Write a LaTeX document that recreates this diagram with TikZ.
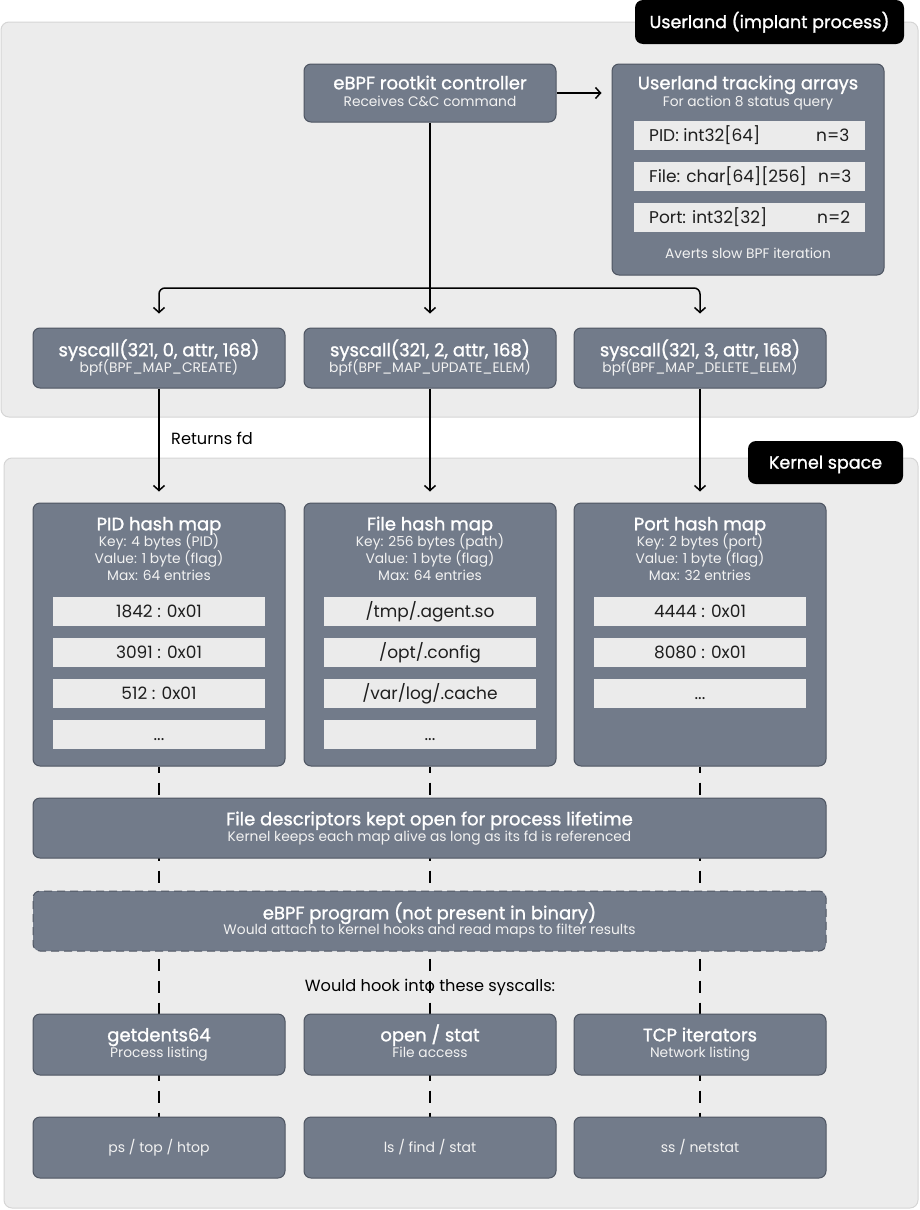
\documentclass[tikz,border=0pt]{standalone}
\usepackage{fontspec}
\setmainfont{Poppins}
\newfontfamily\tfont{Poppins}[FakeBold=1.3]
\usetikzlibrary{arrows.meta,backgrounds}
\definecolor{panelfill}{HTML}{ECECEC}
\definecolor{paneldraw}{HTML}{D5D5D5}
\definecolor{boxfill}{HTML}{727B8A}
\definecolor{boxdraw}{HTML}{4E5562}
\definecolor{rowfill}{HTML}{EBEBEB}
\definecolor{subtext}{HTML}{F2F2F2}
\definecolor{rowtext}{HTML}{1E1E1E}
\tikzset{
 panel/.style={draw=paneldraw, fill=panelfill, line width=1pt, rounded corners=8pt},
 tag/.style={fill=black, text=white, rounded corners=8pt, font=\tfont\fontsize{17.5}{20}\selectfont, inner sep=0pt, text height=12.2pt, text depth=0pt},
 box/.style={draw=boxdraw, fill=boxfill, line width=1pt, rounded corners=7pt, inner sep=0pt},
 dbox/.style={box, dash pattern=on 8pt off 5pt},
 row/.style={fill=rowfill, inner sep=0pt, minimum height=29pt},
 ttl/.style={text=white, font=\tfont\fontsize{18}{21}\selectfont, inner sep=0pt, anchor=base},
 sub/.style={text=subtext, font=\fontsize{13.8}{16}\selectfont, inner sep=0pt, anchor=base},
 rowtxt/.style={text=rowtext, font=\fontsize{17}{20}\selectfont, inner sep=0pt, anchor=base},
 plain/.style={text=black, font=\fontsize{16.2}{19}\selectfont, inner sep=0pt, anchor=base},
 arr/.style={line width=1.5pt, -{Straight Barb[length=5pt,width=11pt]}},
 dline/.style={line width=1.5pt, dash pattern=on 12pt off 10pt},
}
\begin{document}
\begin{tikzpicture}[x=1pt,y=-1pt]
\useasboundingbox (0,0) rectangle (920,1210);

% tags
\node[tag, minimum width=269pt, minimum height=44pt] (tagU) at (769.5,22) {Userland (implant process)};
\node[tag, minimum width=155pt, minimum height=43pt] (tagK) at (825.5,462.5) {Kernel space};

% controller
\node[box, minimum width=252pt, minimum height=58pt] (ctrl) at (430,93) {};
\node[ttl] (ctrlT) at (430,89.3) {eBPF rootkit controller};
\node[sub] (ctrlS) at (430,106.8) {Receives C\&C command};

% tracking arrays
\node[box, minimum width=272pt, minimum height=211pt] (track) at (748,169.5) {};
\node[ttl] (trackT) at (748,89.3) {Userland tracking arrays};
\node[sub] (trackS) at (748,106.8) {For action 8 status query};
\node[row, minimum width=231pt] (tr1) at (749.5,135.5) {};
\node[row, minimum width=231pt] (tr2) at (749.5,176.5) {};
\node[row, minimum width=231pt] (tr3) at (749.5,217.5) {};
\node[rowtxt, anchor=base west] (tr1a) at (649,141.5) {PID: int32[64]};
\node[rowtxt, anchor=base west] (tr1b) at (816,141.5) {n=3};
\node[rowtxt, anchor=base west] (tr2a) at (649,182.5) {File: char[64][256]};
\node[rowtxt, anchor=base west] (tr2b) at (818,182.5) {n=3};
\node[rowtxt, anchor=base west] (tr3a) at (649,223.5) {Port: int32[32]};
\node[rowtxt, anchor=base west] (tr3b) at (817,223.5) {n=2};
\node[sub] (trackF) at (748,258.8) {Averts slow BPF iteration};

% syscalls
\node[box, minimum width=252pt, minimum height=60pt] (sc1) at (159,358) {};
\node[box, minimum width=252pt, minimum height=60pt] (sc2) at (430,358) {};
\node[box, minimum width=252pt, minimum height=60pt] (sc3) at (700,358) {};
\node[ttl] (sc1T) at (159,356.3) {syscall(321, 0, attr, 168)};
\node[sub] (sc1S) at (159,372.8) {bpf(BPF\_MAP\_CREATE)};
\node[ttl] (sc2T) at (430,356.3) {syscall(321, 2, attr, 168)};
\node[sub] (sc2S) at (430,372.8) {bpf(BPF\_MAP\_UPDATE\_ELEM)};
\node[ttl] (sc3T) at (700,356.3) {syscall(321, 3, attr, 168)};
\node[sub] (sc3S) at (700,372.8) {bpf(BPF\_MAP\_DELETE\_ELEM)};

\node[plain] (ret) at (212,444.5) {Returns fd};

% maps
\node[box, minimum width=252pt, minimum height=263pt] (m1) at (159,634.5) {};
\node[box, minimum width=252pt, minimum height=263pt] (m2) at (430,634.5) {};
\node[box, minimum width=252pt, minimum height=263pt] (m3) at (700,634.5) {};
\node[ttl] (m1T) at (159,530.3) {PID hash map};
\node[sub] (m1a) at (159,546.8) {Key: 4 bytes (PID)};
\node[sub] (m1b) at (159,563.8) {Value: 1 byte (flag)};
\node[sub] (m1c) at (159,580.8) {Max: 64 entries};
\node[ttl] (m2T) at (430,530.3) {File hash map};
\node[sub] (m2a) at (430,546.8) {Key: 256 bytes (path)};
\node[sub] (m2b) at (430,563.8) {Value: 1 byte (flag)};
\node[sub] (m2c) at (430,580.8) {Max: 64 entries};
\node[ttl] (m3T) at (700,530.3) {Port hash map};
\node[sub] (m3a) at (700,546.8) {Key: 2 bytes (port)};
\node[sub] (m3b) at (700,563.8) {Value: 1 byte (flag)};
\node[sub] (m3c) at (700,580.8) {Max: 32 entries};

\foreach \cx/\nm/\a/\b/\c/\d in {159/p/{1842 : 0x01}/{3091 : 0x01}/{512 : 0x01}/{...},
                                 430/f/{/tmp/.agent.so}/{/opt/.config}/{/var/log/.cache}/{...}}{
  \node[row, minimum width=212pt] (\nm r1) at (\cx,611.5) {};
  \node[row, minimum width=212pt] (\nm r2) at (\cx,652.5) {};
  \node[row, minimum width=212pt] (\nm r3) at (\cx,693.5) {};
  \node[row, minimum width=212pt] (\nm r4) at (\cx,734.5) {};
  \node[rowtxt] (\nm t1) at (\cx,617.5) {\a};
  \node[rowtxt] (\nm t2) at (\cx,658.5) {\b};
  \node[rowtxt] (\nm t3) at (\cx,699.5) {\c};
  \node[rowtxt] (\nm t4) at (\cx,740.5) {\d};
}
\node[row, minimum width=212pt] (nr1) at (700,611.5) {};
\node[row, minimum width=212pt] (nr2) at (700,652.5) {};
\node[row, minimum width=212pt] (nr3) at (700,693.5) {};
\node[rowtxt] (nt1) at (700,617.5) {4444 : 0x01};
\node[rowtxt] (nt2) at (700,658.5) {8080 : 0x01};
\node[rowtxt] (nt3) at (700,699.5) {...};

% fd box
\node[box, minimum width=793pt, minimum height=60pt] (fd) at (429.5,828) {};
\node[ttl] (fdT) at (429.5,825.3) {File descriptors kept open for process lifetime};
\node[sub] (fdS) at (429.5,841.8) {Kernel keeps each map alive as long as its fd is referenced};

% ebpf program
\node[dbox, minimum width=793pt, minimum height=60pt] (prog) at (429.5,921) {};
\node[ttl] (progT) at (429.5,919.3) {eBPF program (not present in binary)};
\node[sub] (progS) at (429.5,934.8) {Would attach to kernel hooks and read maps to filter results};

\node[plain] (hook) at (430,991.5) {Would hook into these syscalls:};

% hooks
\node[box, minimum width=252pt, minimum height=61pt] (h1) at (159,1044.5) {};
\node[box, minimum width=252pt, minimum height=61pt] (h2) at (430,1044.5) {};
\node[box, minimum width=252pt, minimum height=61pt] (h3) at (700,1044.5) {};
\node[ttl] (h1T) at (159,1041.3) {getdents64};
\node[sub] (h1S) at (159,1057.8) {Process listing};
\node[ttl] (h2T) at (430,1041.3) {open / stat};
\node[sub] (h2S) at (430,1057.8) {File access};
\node[ttl] (h3T) at (700,1041.3) {TCP iterators};
\node[sub] (h3S) at (700,1057.8) {Network listing};

% tools
\node[box, minimum width=252pt, minimum height=61pt] (b1) at (159,1147.5) {};
\node[box, minimum width=252pt, minimum height=61pt] (b2) at (430,1147.5) {};
\node[box, minimum width=252pt, minimum height=61pt] (b3) at (700,1147.5) {};
\node[sub, font=\fontsize{14}{17}\selectfont] (b1T) at (159,1152.8) {ps / top / htop};
\node[sub, font=\fontsize{14}{17}\selectfont] (b2T) at (430,1152.8) {ls / find / stat};
\node[sub, font=\fontsize{14}{17}\selectfont] (b3T) at (700,1152.8) {ss / netstat};

% connectors
\coordinate (split) at (430,288);
\draw[arr, shorten >=10pt] (ctrl.east) -- (ctrl.east -| track.west);
\draw[arr, shorten >=14pt] (ctrl.south) -- (sc2.north);
\draw[arr, rounded corners=6pt, shorten >=14pt] (split) -| (sc1.north);
\draw[arr, rounded corners=6pt, shorten >=14pt] (split) -| (sc3.north);
\draw[arr, shorten >=11pt] (sc1.south) -- (m1.north);
\draw[arr, shorten >=11pt] (sc2.south) -- (m2.north);
\draw[arr, shorten >=11pt] (sc3.south) -- (m3.north);

\begin{scope}[on background layer]
\draw[panel] (1,22) rectangle (918,417);
\draw[panel] (4,458) rectangle (918,1208);
\draw[dline, dash phase=-16pt] (m1.south) -- (b1.north);
\draw[dline, dash phase=-16pt] (m2.south) -- (b2.north);
\draw[dline, dash phase=-16pt] (m3.south) -- (b3.north);
\end{scope}
\end{tikzpicture}
\end{document}
